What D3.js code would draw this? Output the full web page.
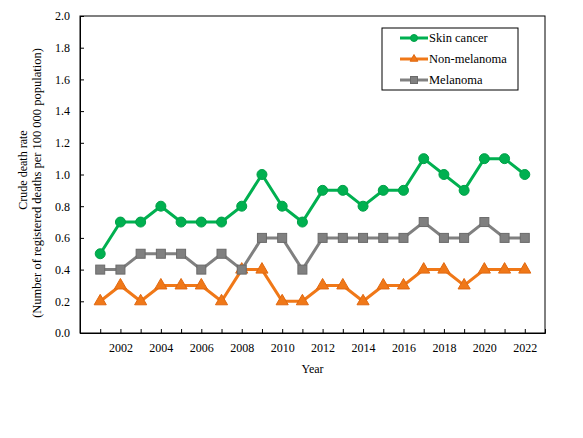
<!DOCTYPE html>
<html>
<head>
<meta charset="utf-8">
<script src="https://cdn.jsdelivr.net/npm/d3@7"></script>
<style>
  body { margin: 0; background: #fff; }
  svg text { font-family: "Liberation Serif", "DejaVu Serif", serif !important; fill: #000; }
</style>
</head>
<body>
<div id="chart"></div>
<script>
const years = [2001, 2002, 2003, 2004, 2005, 2006, 2007, 2008, 2009, 2010, 2011,
               2012, 2013, 2014, 2015, 2016, 2017, 2018, 2019, 2020, 2021, 2022];
const skinCancer  = [0.5, 0.7, 0.7, 0.8, 0.7, 0.7, 0.7, 0.8, 1.0, 0.8, 0.7,
                     0.9, 0.9, 0.8, 0.9, 0.9, 1.1, 1.0, 0.9, 1.1, 1.1, 1.0];
const nonMelanoma = [0.2, 0.3, 0.2, 0.3, 0.3, 0.3, 0.2, 0.4, 0.4, 0.2, 0.2,
                     0.3, 0.3, 0.2, 0.3, 0.3, 0.4, 0.4, 0.3, 0.4, 0.4, 0.4];
const melanoma    = [0.4, 0.4, 0.5, 0.5, 0.5, 0.4, 0.5, 0.4, 0.6, 0.6, 0.4,
                     0.6, 0.6, 0.6, 0.6, 0.6, 0.7, 0.6, 0.6, 0.7, 0.6, 0.6];
const seriesNames = ["Skin cancer", "Non-melanoma", "Melanoma"];
const yTicks = [0, 0.2, 0.4, 0.6, 0.8, 1.0, 1.2, 1.4, 1.6, 1.8, 2.0];
const xLabelYears = [2002, 2004, 2006, 2008, 2010, 2012, 2014, 2016, 2018, 2020, 2022];

const series = [
  {name: seriesNames[0], values: skinCancer,  color: "#00B050", stroke: "#00A048", shape: "circle"},
  {name: seriesNames[1], values: nonMelanoma, color: "#F07818", stroke: "#E06810", shape: "triangle"},
  {name: seriesNames[2], values: melanoma,    color: "#808080", stroke: "#6a6a6a", shape: "square"}
];

const FONT = "'Liberation Serif', 'DejaVu Serif', serif";
const W = 583, H = 438;
const margin = {top: 16, right: 38, bottom: 105, left: 80};
const width = W - margin.left - margin.right;
const height = H - margin.top - margin.bottom;

const svg = d3.select("#chart").append("svg").attr("width", W).attr("height", H)
  .attr("font-family", FONT);
const g = svg.append("g").attr("transform", "translate(" + [margin.left, margin.top] + ")");

const xScale = d3.scaleLinear().domain([2000, 2023]).range([0, width]);
const yScale = d3.scaleLinear().domain([0, 2]).range([height, 0]);

// frame
g.append("rect").attr("width", width).attr("height", height)
  .attr("fill", "none").attr("stroke", "#000").attr("stroke-width", 1);

// y axis (ticks inside)
const yAxis = d3.axisLeft(yScale).tickValues(yTicks).tickSize(-4).tickPadding(10)
  .tickFormat(d3.format(".1f"));
g.append("g").attr("class", "axis axis-y").call(yAxis)
  .attr("font-family", FONT).attr("font-size", 12)
  .call(s => s.select(".domain").attr("stroke", "#000"));

// x axis: tick each year, label even years
const xAxis = d3.axisBottom(xScale).tickValues(years).tickSize(-4).tickPadding(10)
  .tickFormat(d => xLabelYears.includes(d) ? d : "");
g.append("g").attr("class", "axis axis-x").attr("transform", "translate(0," + height + ")").call(xAxis)
  .attr("font-family", FONT).attr("font-size", 12)
  .call(s => s.select(".domain").attr("stroke", "#000"));

// axis titles
svg.append("text").attr("x", margin.left + xScale(2011.5)).attr("y", 373)
  .attr("text-anchor", "middle").style("font-size", "12px").text("Year");

svg.append("text").attr("transform", "translate(27,170) rotate(-90)")
  .attr("text-anchor", "middle").style("font-size", "12px").text("Crude death rate");
svg.append("text").attr("transform", "translate(41,183) rotate(-90)")
  .attr("text-anchor", "middle").style("font-size", "12.5px")
  .text("(Number of registered deaths per 100 000 population)");

// markers
function drawMarker(sel, shape, color, stroke, size) {
  if (shape === "circle") {
    sel.append("circle").attr("r", size).attr("fill", color).attr("stroke", stroke);
  } else if (shape === "triangle") {
    sel.append("path").attr("d", d3.symbol(d3.symbolTriangle, size * size * 2.1)())
      .attr("fill", color).attr("stroke", stroke);
  } else {
    sel.append("rect").attr("x", -size).attr("y", -size).attr("width", size * 2).attr("height", size * 2)
      .attr("fill", color).attr("stroke", stroke);
  }
}

const line = d3.line().x(d => xScale(d.year)).y(d => yScale(d.value));

series.forEach(s => {
  const pts = years.map((y, i) => ({year: y, value: s.values[i]}));
  g.append("path").datum(pts).attr("d", line)
    .attr("fill", "none").attr("stroke", s.color).attr("stroke-width", 3);
  g.append("g").selectAll("g").data(pts).enter().append("g")
    .attr("transform", d => "translate(" + [xScale(d.year), yScale(d.value)] + ")")
    .each(function() { drawMarker(d3.select(this), s.shape, s.color, s.stroke, s.shape === "triangle" ? 5.5 : (s.shape === "square" ? 4.5 : 5)); });
});

// legend
const legend = svg.append("g").attr("transform", "translate(382,28)");
legend.append("rect").attr("width", 136).attr("height", 62)
  .attr("fill", "#fff").attr("stroke", "#000").attr("stroke-width", 1);
series.forEach((s, i) => {
  const row = legend.append("g").attr("transform", "translate(0," + (10 + i * 21) + ")");
  row.append("line").attr("x1", 18).attr("x2", 46).attr("y1", 0).attr("y2", 0)
    .attr("stroke", s.color).attr("stroke-width", 3);
  const m = row.append("g").attr("transform", "translate(32,0)");
  drawMarker(m, s.shape, s.color, s.stroke, 3.5);
  row.append("text").attr("x", 47).attr("y", 4).style("font-size", "12.5px").text(s.name);
});
</script>
</body>
</html>
